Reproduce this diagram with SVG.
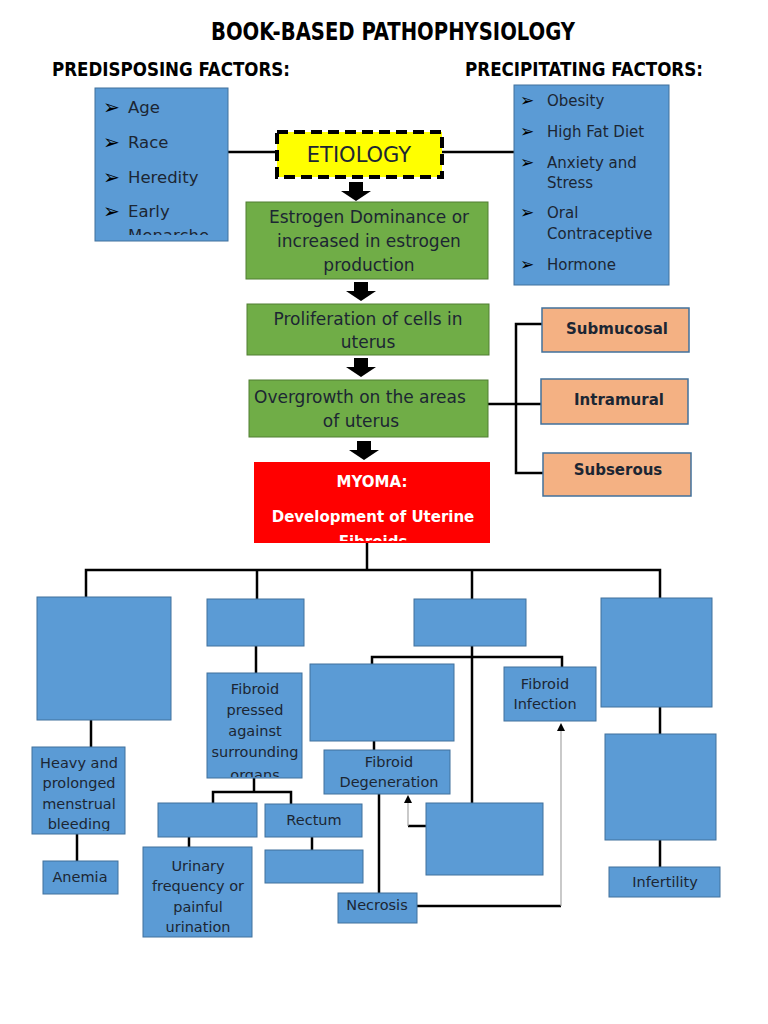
<svg xmlns="http://www.w3.org/2000/svg" width="768" height="1024" viewBox="0 0 768 1024">
<style>
.blue{fill:#5B9BD5;stroke:#41719C;stroke-width:1}
.green{fill:#70AD47;stroke:#507E32;stroke-width:1}
.orange{fill:#F4B183;stroke:#41719C;stroke-width:1.5}
.red{fill:#FF0000}
.yellow{fill:#FFFF00;stroke:#000;stroke-width:4;stroke-dasharray:11 6}
.t{font-family:"DejaVu Sans",sans-serif;fill:#1c2633}
.c{text-anchor:middle}
.w{fill:#fff}
.hd{font-family:"DejaVu Sans Condensed","Liberation Sans",sans-serif;font-weight:bold;fill:#000}
.bl{font-family:"DejaVu Sans",sans-serif;fill:#000}
.ln{stroke:#000;stroke-width:2.5;fill:none}
.thin{stroke:#A6A6A6;stroke-width:1.2;fill:none}
</style>
<defs>
<path id="arr" d="M-7,0 H7 V9 H15 L0,19 L-15,9 H-7 Z" fill="#000"/>
<marker id="ah" markerWidth="8" markerHeight="8" refX="4" refY="4" orient="auto" markerUnits="userSpaceOnUse">
<path d="M0,0 L8,4 L0,8 Z" fill="#000"/>
</marker>
<clipPath id="cpLeft"><rect x="95" y="88" width="133" height="147"/></clipPath>
<clipPath id="cpRed"><rect x="254" y="462" width="236" height="79"/></clipPath>
<clipPath id="cpHeavy"><rect x="32" y="747" width="93" height="84"/></clipPath>
<clipPath id="cpPress"><rect x="207" y="673" width="95" height="104"/></clipPath>
</defs>
<rect width="768" height="1024" fill="#fff"/>

<text class="hd c" x="393" y="40" font-size="24" textLength="364" lengthAdjust="spacingAndGlyphs">BOOK-BASED PATHOPHYSIOLOGY</text>
<text class="hd" x="52" y="76" font-size="20" textLength="238" lengthAdjust="spacingAndGlyphs">PREDISPOSING FACTORS:</text>
<text class="hd" x="465" y="76" font-size="20" textLength="238" lengthAdjust="spacingAndGlyphs">PRECIPITATING FACTORS:</text>

<g id="connectors">
<line class="ln" x1="228" y1="152" x2="276" y2="152"/>
<line class="ln" x1="442" y1="152" x2="514" y2="152"/>
<use href="#arr" x="356" y="182"/>
<use href="#arr" x="361" y="282"/>
<use href="#arr" x="361" y="358"/>
<use href="#arr" x="364" y="441"/>
<polyline class="ln" points="488,404 542,404"/>
<polyline class="ln" points="542,324 516,324 516,473 543,473"/>
<line class="ln" x1="367" y1="543" x2="367" y2="570"/>
<polyline class="ln" points="86,597 86,570 660,570 660,598"/>
<line class="ln" x1="257" y1="570" x2="257" y2="599"/>
<line class="ln" x1="472" y1="570" x2="472" y2="599"/>
<line class="ln" x1="91" y1="720" x2="91" y2="747"/>
<line class="ln" x1="77" y1="834" x2="77" y2="861"/>
<line class="ln" x1="256" y1="646" x2="256" y2="673"/>
<polyline class="ln" points="254,778 254,792"/>
<polyline class="ln" points="213,803 213,792 291,792 291,804"/>
<line class="ln" x1="189" y1="837" x2="189" y2="847"/>
<line class="ln" x1="312" y1="837" x2="312" y2="850"/>
<line class="ln" x1="472" y1="646" x2="472" y2="803"/>
<polyline class="ln" points="372,664 372,657 562,657 562,667"/>
<line class="ln" x1="374" y1="741" x2="374" y2="750"/>
<line class="ln" x1="379" y1="794" x2="379" y2="893"/>
<polyline class="ln" points="417,906 561,906"/>
<line class="thin" x1="561" y1="906" x2="561" y2="727" marker-end="url(#ah)"/>
<polyline class="ln" points="426,826 408,826"/>
<line class="thin" x1="408" y1="826" x2="408" y2="799" marker-end="url(#ah)"/>
<line class="ln" x1="660" y1="707" x2="660" y2="734"/>
<line class="ln" x1="660" y1="840" x2="660" y2="867"/>
</g>

<g id="predisposing">
<rect class="blue" x="95" y="88" width="133" height="153"/>
<g clip-path="url(#cpLeft)">
<text class="bl" x="103" y="114" font-size="20">➢</text>
<text class="bl" x="103" y="149" font-size="20">➢</text>
<text class="bl" x="103" y="184" font-size="20">➢</text>
<text class="bl" x="103" y="218" font-size="20">➢</text>
<text class="t" x="128" y="113" font-size="16.5">Age</text>
<text class="t" x="128" y="148" font-size="16.5">Race</text>
<text class="t" x="128" y="183" font-size="16.5">Heredity</text>
<text class="t" x="128" y="217" font-size="16.5">Early</text>
<text class="t" x="128" y="241" font-size="16.5">Menarche</text>
</g>
</g>

<g id="etiology">
<rect class="yellow" x="277" y="132" width="165" height="45"/>
<text class="t c" x="359" y="162" font-size="21">ETIOLOGY</text>
</g>

<g id="precipitating">
<rect class="blue" x="514" y="85" width="155" height="200"/>
<text class="bl" x="520" y="106" font-size="17">➢</text>
<text class="bl" x="520" y="137" font-size="17">➢</text>
<text class="bl" x="520" y="168" font-size="17">➢</text>
<text class="bl" x="520" y="218" font-size="17">➢</text>
<text class="bl" x="520" y="270" font-size="17">➢</text>
<text class="t" x="547" y="106" font-size="15">Obesity</text>
<text class="t" x="547" y="137" font-size="15">High Fat Diet</text>
<text class="t" x="547" y="168" font-size="15">Anxiety and</text>
<text class="t" x="547" y="188" font-size="15">Stress</text>
<text class="t" x="547" y="218" font-size="15">Oral</text>
<text class="t" x="547" y="239" font-size="15">Contraceptive</text>
<text class="t" x="547" y="270" font-size="15">Hormone</text>
</g>

<g id="estrogen">
<rect class="green" x="246" y="202" width="242" height="77"/>
<text class="t c" x="369" y="223" font-size="17">Estrogen Dominance or</text>
<text class="t c" x="369" y="247" font-size="17">increased in estrogen</text>
<text class="t c" x="369" y="271" font-size="17">production</text>
</g>

<g id="proliferation">
<rect class="green" x="247" y="304" width="242" height="51"/>
<text class="t c" x="368" y="325" font-size="17">Proliferation of cells in</text>
<text class="t c" x="368" y="348" font-size="17">uterus</text>
</g>

<g id="overgrowth">
<rect class="green" x="249" y="380" width="239" height="57"/>
<text class="t" x="254" y="403" font-size="17">Overgrowth on the areas</text>
<text class="t c" x="361" y="427" font-size="17">of uterus</text>
</g>

<g id="submucosal">
<rect class="orange" x="542" y="308" width="147" height="44"/>
<text class="t c" x="617" y="334" font-size="15" font-weight="bold">Submucosal</text>
</g>
<g id="intramural">
<rect class="orange" x="541" y="379" width="147" height="45"/>
<text class="t c" x="619" y="405" font-size="15" font-weight="bold">Intramural</text>
</g>
<g id="subserous">
<rect class="orange" x="543" y="453" width="148" height="43"/>
<text class="t c" x="618" y="475" font-size="15" font-weight="bold">Subserous</text>
</g>

<g id="myoma">
<rect class="red" x="254" y="462" width="236" height="81"/>
<g clip-path="url(#cpRed)">
<text class="t c w" x="372" y="487" font-size="15" font-weight="bold">MYOMA:</text>
<text class="t c w" x="373" y="522" font-size="15" font-weight="bold">Development of Uterine</text>
<text class="t c w" x="373" y="547" font-size="15" font-weight="bold">Fibroids</text>
</g>
</g>

<g id="b1"><rect class="blue" x="37" y="597" width="134" height="123"/></g>
<g id="heavy">
<rect class="blue" x="32" y="747" width="93" height="87"/>
<g clip-path="url(#cpHeavy)">
<text class="t c" x="79" y="768" font-size="14.5">Heavy and</text>
<text class="t c" x="79" y="788" font-size="14.5">prolonged</text>
<text class="t c" x="79" y="809" font-size="14.5">menstrual</text>
<text class="t c" x="79" y="829" font-size="14.5">bleeding</text>
</g>
</g>
<g id="anemia">
<rect class="blue" x="43" y="861" width="75" height="33"/>
<text class="t c" x="80" y="882" font-size="14.5">Anemia</text>
</g>

<g id="b2"><rect class="blue" x="207" y="599" width="97" height="47"/></g>
<g id="pressed">
<rect class="blue" x="207" y="673" width="95" height="105"/>
<g clip-path="url(#cpPress)">
<text class="t c" x="255" y="694" font-size="14.5">Fibroid</text>
<text class="t c" x="255" y="715" font-size="14.5">pressed</text>
<text class="t c" x="255" y="736" font-size="14.5">against</text>
<text class="t c" x="255" y="757" font-size="14.5">surrounding</text>
<text class="t c" x="255" y="780" font-size="14.5">organs</text>
</g>
</g>
<g id="bladder"><rect class="blue" x="158" y="803" width="99" height="34"/></g>
<g id="rectum">
<rect class="blue" x="265" y="804" width="97" height="33"/>
<text class="t c" x="314" y="825" font-size="14.5">Rectum</text>
</g>
<g id="urinary">
<rect class="blue" x="143" y="847" width="109" height="90"/>
<text class="t c" x="198" y="871" font-size="14.5">Urinary</text>
<text class="t c" x="198" y="891" font-size="14.5">frequency or</text>
<text class="t c" x="198" y="912" font-size="14.5">painful</text>
<text class="t c" x="198" y="932" font-size="14.5">urination</text>
</g>
<g id="rectumeffect"><rect class="blue" x="265" y="850" width="98" height="33"/></g>

<g id="b3"><rect class="blue" x="414" y="599" width="112" height="47"/></g>
<g id="b3a"><rect class="blue" x="310" y="664" width="144" height="77"/></g>
<g id="degeneration">
<rect class="blue" x="324" y="750" width="126" height="44"/>
<text class="t c" x="389" y="767" font-size="14.5">Fibroid</text>
<text class="t c" x="389" y="787" font-size="14.5">Degeneration</text>
</g>
<g id="infection">
<rect class="blue" x="504" y="667" width="92" height="54"/>
<text class="t c" x="545" y="689" font-size="14.5">Fibroid</text>
<text class="t c" x="545" y="709" font-size="14.5">Infection</text>
</g>
<g id="b3b"><rect class="blue" x="426" y="803" width="117" height="72"/></g>
<g id="necrosis">
<rect class="blue" x="338" y="893" width="79" height="30"/>
<text class="t c" x="377" y="910" font-size="14.5">Necrosis</text>
</g>

<g id="b4"><rect class="blue" x="601" y="598" width="111" height="109"/></g>
<g id="b4a"><rect class="blue" x="605" y="734" width="111" height="106"/></g>
<g id="infertility">
<rect class="blue" x="609" y="867" width="111" height="30"/>
<text class="t c" x="665" y="887" font-size="14.5">Infertility</text>
</g>
</svg>
